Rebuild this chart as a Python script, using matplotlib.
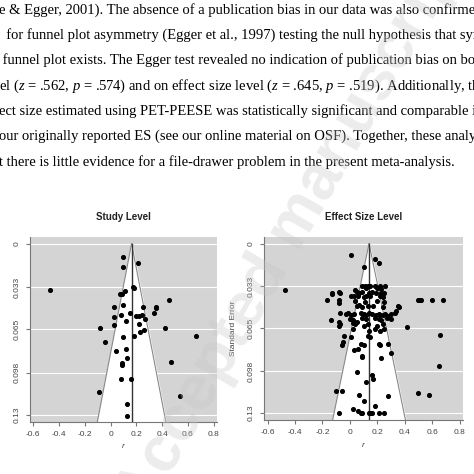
import matplotlib.pyplot as plt
import numpy as np

plt.rcParams["mathtext.fontset"] = "custom"
plt.rcParams["mathtext.it"] = "Liberation Serif:italic"
plt.rcParams["mathtext.rm"] = "Liberation Serif"
plt.rcParams["font.family"] = ["Liberation Sans", "DejaVu Sans"]

text_lines = [
    "e & Egger, 2001). The absence of a publication bias in our data was also confirmed b",
    "  for funnel plot asymmetry (Egger et al., 1997) testing the null hypothesis that symmetry",
    " funnel plot exists. The Egger test revealed no indication of publication bias on both stu",
    "el ($z$ = .562, $p$ = .574) and on effect size level ($z$ = .645, $p$ = .519). Additionally, the t",
    "ect size estimated using PET-PEESE was statistically significant and comparable in stren",
    "our originally reported ES (see our online material on OSF). Together, these analyses sugg",
    "t there is little evidence for a file-drawer problem in the present meta-analysis.",
]

study_r = [-0.47, 0.10, 0.10, 0.21, 0.17, 0.18, 0.11, 0.09, 0.07, 0.08, 0.45, 0.03, 0.10, 0.25,
           0.35, 0.34, 0.08, 0.15, 0.20, 0.22, 0.24, 0.03, 0.27, 0.12, 0.22, 0.03, -0.08, 0.42,
           0.26, 0.23, 0.18, 0.10, 0.66, -0.04, 0.12, 0.04, 0.13, 0.47, 0.09, 0.09, 0.08, 0.16,
           -0.09, 0.54, 0.13, 0.13, 0.35]
study_se = [0.035, 0.010, 0.018, 0.015, 0.033, 0.034, 0.036, 0.038, 0.038, 0.038, 0.043, 0.048,
            0.047, 0.048, 0.048, 0.053, 0.054, 0.053, 0.055, 0.055, 0.054, 0.056, 0.057, 0.059,
            0.061, 0.062, 0.064, 0.064, 0.066, 0.067, 0.070, 0.071, 0.070, 0.075, 0.080, 0.082,
            0.087, 0.090, 0.091, 0.092, 0.103, 0.103, 0.113, 0.116, 0.122, 0.131, 0.049]

es_r = [0.01, 0.18, 0.21, 0.10,
        0.09, 0.11, 0.13, 0.15, 0.18, 0.22, 0.26, 0.23, 0.12, 0.20,
        -0.47, -0.13, -0.08, -0.07, -0.13, 0.04, 0.05, 0.07, 0.09, 0.14, 0.16, 0.19, 0.23, 0.25,
        0.01, 0.03, 0.06, 0.10, 0.12, 0.15, 0.22, 0.24,
        -0.17, -0.08, 0.50, 0.51, 0.52, 0.60, 0.68, 0.04, 0.11, 0.20, 0.25,
        -0.08, 0.05, 0.07, 0.09, 0.13, 0.17, 0.24, 0.35, 0.36,
        -0.07, -0.03, -0.01, 0.01, 0.03, 0.08, 0.10, 0.12, 0.14, 0.16, 0.19, 0.21, 0.22, 0.24,
        0.26, 0.28, 0.30, 0.33, 0.34,
        -0.14, -0.08, 0.00, 0.02, 0.05, 0.09, 0.12, 0.18, 0.21, 0.23, 0.27, 0.30,
        -0.07, -0.08, 0.02, 0.04, 0.10, 0.13, 0.20, 0.24, 0.42,
        0.02, 0.14, 0.18, 0.22, 0.25, 0.66,
        -0.04, 0.01, 0.13, 0.15,
        -0.05, -0.06, 0.08, 0.10, 0.21, 0.22, 0.28,
        0.03, 0.06, 0.30, 0.09, 0.09, 0.23, 0.65,
        0.05, 0.16, 0.17, 0.12,
        -0.10, -0.06, 0.07, 0.50, 0.58, 0.28, 0.10, 0.18,
        0.02, -0.08, 0.06, 0.08, 0.09, 0.14, 0.15, 0.16, 0.21, 0.25]
es_se = [0.009, 0.012, 0.015, 0.018,
         0.033, 0.033, 0.033, 0.033, 0.033, 0.033, 0.033, 0.035, 0.034, 0.034,
         0.036, 0.038, 0.037, 0.038, 0.039, 0.036, 0.037, 0.038, 0.037, 0.038, 0.037, 0.038,
         0.038, 0.038,
         0.040, 0.040, 0.040, 0.041, 0.040, 0.040, 0.040, 0.041,
         0.043, 0.043, 0.043, 0.043, 0.043, 0.043, 0.043, 0.044, 0.045, 0.044, 0.045,
         0.046, 0.048, 0.047, 0.049, 0.048, 0.048, 0.049, 0.048, 0.049,
         0.053, 0.054, 0.053, 0.055, 0.054, 0.053, 0.054, 0.055, 0.053, 0.054, 0.055, 0.054,
         0.055, 0.055, 0.054, 0.056, 0.054, 0.053, 0.052,
         0.059, 0.060, 0.058, 0.059, 0.060, 0.057, 0.058, 0.057, 0.058, 0.059, 0.057, 0.058,
         0.062, 0.063, 0.061, 0.062, 0.063, 0.062, 0.063, 0.062, 0.064,
         0.066, 0.067, 0.066, 0.067, 0.066, 0.070,
         0.071, 0.072, 0.071, 0.072,
         0.076, 0.078, 0.077, 0.078, 0.077, 0.078, 0.077,
         0.082, 0.081, 0.084, 0.086, 0.087, 0.088, 0.094,
         0.099, 0.101, 0.104, 0.106,
         0.113, 0.113, 0.116, 0.115, 0.116, 0.117, 0.121, 0.125,
         0.127, 0.130, 0.129, 0.130, 0.130, 0.130, 0.130, 0.130, 0.130, 0.130]

se_ticks = [0, 0.033, 0.065, 0.098, 0.13]
se_labels = ["0", "0.033", "0.065", "0.098", "0.13"]
r_ticks = [-0.6, -0.4, -0.2, 0, 0.2, 0.4, 0.6, 0.8]


def funnel(ax, r, se, center, title):
    ax.set_facecolor("#d4d4d4")
    sev = np.array([0, 0.1355])
    ax.fill_betweenx(sev, center - 1.96 * sev, center + 1.96 * sev, color="white", zorder=1)
    ax.plot(center - 1.96 * sev, sev, color="#888888", lw=0.8, zorder=2)
    ax.plot(center + 1.96 * sev, sev, color="#888888", lw=0.8, zorder=2)
    for t in se_ticks:
        ax.axhline(t, color="white", lw=0.8, zorder=0.5)
    ax.axvline(center, ymin=0, ymax=0.1355 / 0.1405, color="#333333", lw=1, zorder=3)
    ax.scatter(r, se, s=7, color="black", zorder=4)
    ax.set_xlim(-0.626, 0.826)
    ax.set_ylim(0.1355, -0.005)
    ax.set_yticks(se_ticks)
    ax.set_yticklabels(se_labels, rotation=90, va="center", fontsize=6, color="#444444")
    ax.set_xticks(r_ticks)
    ax.set_xticklabels(["-0.6", "-0.4", "-0.2", "0", "0.2", "0.4", "0.6", "0.8"],
                       fontsize=6, color="#444444")
    ax.tick_params(length=3, color="#777777")
    for s in ["top", "right"]:
        ax.spines[s].set_visible(False)
    for s in ["left", "bottom"]:
        ax.spines[s].set_color("#777777")
    ax.set_xlabel("r", fontsize=6, style="italic", color="#444444")
    ax.set_ylabel("Standard Error", fontsize=6, color="#444444", labelpad=8)
    ax.set_title(title, fontsize=7, fontweight="bold", color="#222222", pad=12)


fig = plt.figure(figsize=(4.74, 4.74), dpi=100)
for i, line in enumerate(text_lines):
    fig.text(-0.003, 1 - (10 + 25.3 * i) / 474, line, fontsize=10.5,
             family="Liberation Serif", va="center", ha="left")

ax1 = fig.add_axes([0.063, 0.110, 0.395, 0.39])
funnel(ax1, study_r, study_se, 0.163, "Study Level")
ax2 = fig.add_axes([0.557, 0.114, 0.42, 0.386])
funnel(ax2, es_r, es_se, 0.14, "Effect Size Level")

fig.text(0.62, 0.52, "Accepted manuscript", fontsize=46, rotation=60, color="#c8c8c8",
         alpha=0.35, ha="center", va="center", fontweight="bold", zorder=10)

fig.savefig("out.png", dpi=100)
